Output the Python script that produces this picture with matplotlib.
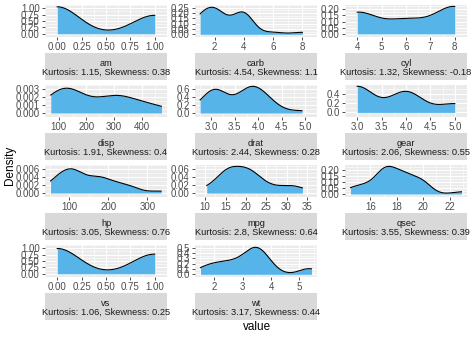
import numpy as np
import matplotlib
matplotlib.use("Agg")
import matplotlib.pyplot as plt
from matplotlib.patches import Rectangle

plt.rcParams["font.family"] = ["Liberation Sans", "DejaVu Sans"]

# mtcars columns (source data of the density panels)
mpg = [21.0, 21.0, 22.8, 21.4, 18.7, 18.1, 14.3, 24.4, 22.8, 19.2, 17.8, 16.4, 17.3, 15.2, 10.4, 10.4,
       14.7, 32.4, 30.4, 33.9, 21.5, 15.5, 15.2, 13.3, 19.2, 27.3, 26.0, 30.4, 15.8, 19.7, 15.0, 21.4]
cyl = [6, 6, 4, 6, 8, 6, 8, 4, 4, 6, 6, 8, 8, 8, 8, 8, 8, 4, 4, 4, 4, 8, 8, 8, 8, 4, 4, 4, 8, 6, 8, 4]
disp = [160, 160, 108, 258, 360, 225, 360, 146.7, 140.8, 167.6, 167.6, 275.8, 275.8, 275.8, 472, 460,
        440, 78.7, 75.7, 71.1, 120.1, 318, 304, 350, 400, 79, 120.3, 95.1, 351, 145, 301, 121]
hp = [110, 110, 93, 110, 175, 105, 245, 62, 95, 123, 123, 180, 180, 180, 205, 215, 230, 66, 52, 65, 97,
      150, 150, 245, 175, 66, 91, 113, 264, 175, 335, 109]
drat = [3.90, 3.90, 3.85, 3.08, 3.15, 2.76, 3.21, 3.69, 3.92, 3.92, 3.92, 3.07, 3.07, 3.07, 2.93, 3.00,
        3.23, 4.08, 4.93, 4.22, 3.70, 2.76, 3.15, 3.73, 3.08, 4.08, 4.43, 3.77, 4.22, 3.62, 3.54, 4.11]
wt = [2.620, 2.875, 2.320, 3.215, 3.440, 3.460, 3.570, 3.190, 3.150, 3.440, 3.440, 4.070, 3.730, 3.780,
      5.250, 5.424, 5.345, 2.200, 1.615, 1.835, 2.465, 3.520, 3.435, 3.840, 3.845, 1.935, 2.140, 1.513,
      3.170, 2.770, 3.570, 2.780]
qsec = [16.46, 17.02, 18.61, 19.44, 17.02, 20.22, 15.84, 20.00, 22.90, 18.30, 18.90, 17.40, 17.60, 18.00,
        17.98, 17.82, 17.42, 19.47, 18.52, 19.90, 20.01, 16.87, 17.30, 15.41, 17.05, 18.90, 16.70, 16.90,
        14.50, 15.50, 14.60, 18.60]
vs = [0, 0, 1, 1, 0, 1, 0, 1, 1, 1, 1, 0, 0, 0, 0, 0, 0, 1, 1, 1, 1, 0, 0, 0, 0, 1, 0, 1, 0, 0, 0, 1]
am = [1, 1, 1, 0, 0, 0, 0, 0, 0, 0, 0, 0, 0, 0, 0, 0, 0, 1, 1, 1, 0, 0, 0, 0, 0, 1, 1, 1, 1, 1, 1, 1]
gear = [4, 4, 4, 3, 3, 3, 3, 4, 4, 4, 4, 3, 3, 3, 3, 3, 3, 4, 4, 4, 3, 3, 3, 3, 3, 4, 5, 5, 5, 5, 5, 4]
carb = [4, 4, 1, 1, 2, 1, 4, 2, 2, 4, 4, 3, 3, 3, 4, 4, 4, 1, 2, 1, 1, 2, 2, 4, 2, 1, 2, 2, 4, 6, 8, 2]

variables = ["am", "carb", "cyl", "disp", "drat", "gear", "hp", "mpg", "qsec", "vs", "wt"]
columns = {"am": am, "carb": carb, "cyl": cyl, "disp": disp, "drat": drat, "gear": gear,
           "hp": hp, "mpg": mpg, "qsec": qsec, "vs": vs, "wt": wt}
strip_labels = {
    "am": "Kurtosis: 1.15, Skewness: 0.38",
    "carb": "Kurtosis: 4.54, Skewness: 1.1",
    "cyl": "Kurtosis: 1.32, Skewness: -0.18",
    "disp": "Kurtosis: 1.91, Skewness: 0.4",
    "drat": "Kurtosis: 2.44, Skewness: 0.28",
    "gear": "Kurtosis: 2.06, Skewness: 0.55",
    "hp": "Kurtosis: 3.05, Skewness: 0.76",
    "mpg": "Kurtosis: 2.8, Skewness: 0.64",
    "qsec": "Kurtosis: 3.55, Skewness: 0.39",
    "vs": "Kurtosis: 1.06, Skewness: 0.25",
    "wt": "Kurtosis: 3.17, Skewness: 0.44",
}
x_breaks = {
    "am": ["0.00", "0.25", "0.50", "0.75", "1.00"],
    "carb": ["2", "4", "6", "8"],
    "cyl": ["4", "5", "6", "7", "8"],
    "disp": ["100", "200", "300", "400"],
    "drat": ["3.0", "3.5", "4.0", "4.5", "5.0"],
    "gear": ["3.0", "3.5", "4.0", "4.5", "5.0"],
    "hp": ["100", "200", "300"],
    "mpg": ["10", "15", "20", "25", "30", "35"],
    "qsec": ["16", "18", "20", "22"],
    "vs": ["0.00", "0.25", "0.50", "0.75", "1.00"],
    "wt": ["2", "3", "4", "5"],
}
y_breaks = {
    "am": ["0.00", "0.25", "0.50", "0.75", "1.00"],
    "carb": ["0.00", "0.05", "0.10", "0.15", "0.20", "0.25"],
    "cyl": ["0.00", "0.05", "0.10", "0.15", "0.20"],
    "disp": ["0.000", "0.001", "0.002", "0.003"],
    "drat": ["0.0", "0.2", "0.4", "0.6"],
    "gear": ["0.0", "0.2", "0.4"],
    "hp": ["0.000", "0.002", "0.004", "0.006"],
    "mpg": ["0.00", "0.02", "0.04", "0.06"],
    "qsec": ["0.00", "0.05", "0.10", "0.15", "0.20"],
    "vs": ["0.00", "0.25", "0.50", "0.75", "1.00"],
    "wt": ["0.0", "0.1", "0.2", "0.3", "0.4", "0.5"],
}


def bw_nrd0(x):
    x = np.asarray(x, float)
    hi = np.std(x, ddof=1)
    q75, q25 = np.percentile(x, [75, 25])
    lo = min(hi, (q75 - q25) / 1.34)
    if lo == 0:
        lo = hi or abs(x[0]) or 1.0
    return 0.9 * lo * len(x) ** (-0.2)


def density(x, n=512):
    x = np.asarray(x, float)
    bw = bw_nrd0(x)
    grid = np.linspace(x.min(), x.max(), n)
    z = (grid[:, None] - x[None, :]) / bw
    d = np.exp(-0.5 * z ** 2).sum(axis=1) / (len(x) * bw * np.sqrt(2 * np.pi))
    return grid, d


W, H = 474, 338
fig = plt.figure(figsize=(W / 100, H / 100), dpi=100)
fig.patch.set_facecolor("white")

FILL = "#56B4E9"
PANEL_BG = "#EBEBEB"
STRIP_BG = "#D9D9D9"
TICK_COL = "#4D4D4D"

col_left = [45, 195, 345]
panel_w = 122
panel_h = 32
row_top = [5, 85, 165, 245]
fs_tick = 7.0
fs_strip = 6.7


def frac(x, y, w, h):
    return [x / W, 1 - (y + h) / H, w / W, h / H]


for i, var in enumerate(variables):
    r, c = divmod(i, 3)
    px, py = col_left[c], row_top[r]
    ax = fig.add_axes(frac(px, py, panel_w, panel_h))
    ax.set_facecolor(PANEL_BG)
    gx, gy = density(columns[var])
    ax.fill_between(gx, 0, gy, color=FILL, lw=0, zorder=3)
    ax.plot(gx, gy, color="black", lw=0.8, zorder=4)

    xmin, xmax = gx.min(), gx.max()
    xr = xmax - xmin
    ax.set_xlim(xmin - 0.05 * xr, xmax + 0.05 * xr)
    ymax = gy.max()
    ax.set_ylim(-0.05 * ymax, 1.05 * ymax)

    xt = [float(v) for v in x_breaks[var]]
    yt = [float(v) for v in y_breaks[var]]
    ax.set_xticks(xt)
    ax.set_xticklabels(x_breaks[var])
    ax.set_yticks(yt)
    ax.set_yticklabels(y_breaks[var])
    xstep = xt[1] - xt[0]
    ystep = yt[1] - yt[0]
    xminor = np.arange(xt[0] - xstep / 2, xt[-1] + xstep, xstep)
    yminor = np.arange(yt[0] - ystep / 2, yt[-1] + ystep, ystep)
    ax.set_xticks(xminor, minor=True)
    ax.set_yticks(yminor, minor=True)
    ax.grid(True, which="major", color="white", lw=0.8, zorder=0)
    ax.grid(True, which="minor", color="white", lw=0.4, zorder=0)
    ax.set_axisbelow(True)
    ax.tick_params(which="minor", length=0)
    ax.tick_params(which="major", length=2.2, width=0.6, color="#333333",
                   labelsize=fs_tick, labelcolor=TICK_COL, pad=1.5)
    for s in ax.spines.values():
        s.set_visible(False)

    # strip below the x-axis
    sx, sy, sw, sh = px, py + panel_h + 16, panel_w, 27
    fig.patches.append(Rectangle((sx / W, 1 - (sy + sh) / H), sw / W, sh / H,
                                 transform=fig.transFigure, facecolor=STRIP_BG,
                                 edgecolor="none", zorder=0))
    fig.text((sx + sw / 2) / W, 1 - (sy + sh / 2 + 1) / H, var + "\n" + strip_labels[var],
             ha="center", va="center", fontsize=fs_strip, color="#1A1A1A", linespacing=0.95)

fig.text(10 / W, 1 - 165 / H, "Density", rotation=90, ha="center", va="center",
         fontsize=8.5, color="black")
fig.text(257 / W, 1 - 327 / H, "value", ha="center", va="center", fontsize=8.5, color="black")

fig.savefig("out.png", dpi=100)
